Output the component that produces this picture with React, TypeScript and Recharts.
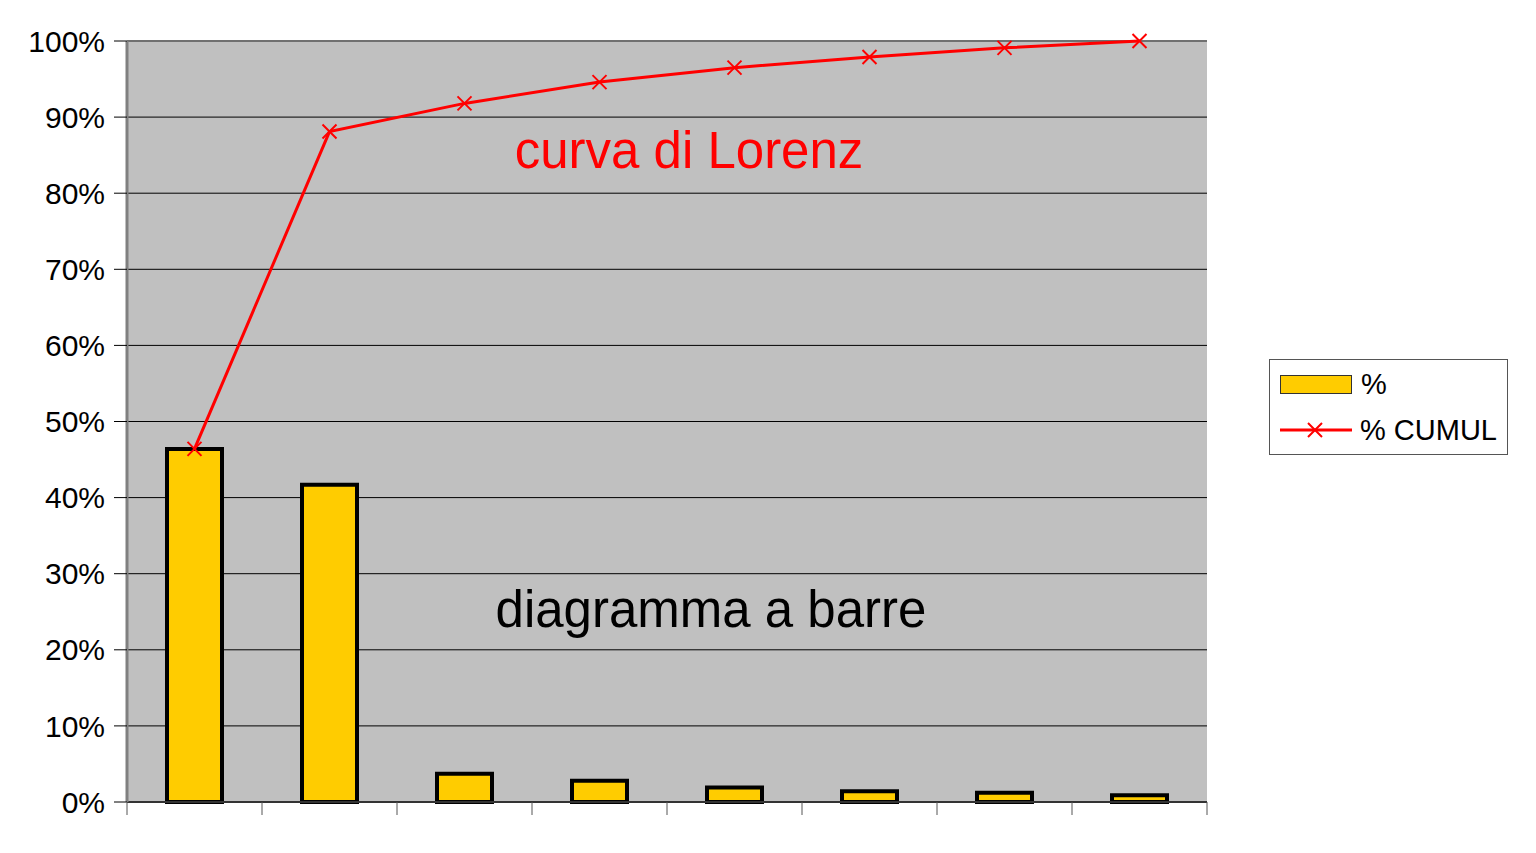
import {
  ComposedChart,
  Bar,
  Line,
  XAxis,
  YAxis,
  CartesianGrid,
  ReferenceLine,
  Customized,
} from 'recharts';

const categories = ['1', '2', '3', '4', '5', '6', '7', '8'];
const percent = [46.4, 41.7, 3.7, 2.8, 1.9, 1.4, 1.2, 0.9];
const cumul = [46.4, 88.1, 91.8, 94.6, 96.5, 97.9, 99.1, 100];
const yTicks = [0, 10, 20, 30, 40, 50, 60, 70, 80, 90, 100];

const FONT = '"Liberation Sans", Arial, sans-serif';
const TICK = 13;

const data = categories.map((c, i) => ({ cat: c, pct: percent[i], cum: cumul[i] }));

// red "x" marker used for the cumulative line
function CrossDot(props: any) {
  const { cx, cy } = props;
  if (cx == null || cy == null) return null;
  const s = 7;
  return (
    <path
      key={`x-${cx}`}
      d={`M${cx - s},${cy - s}L${cx + s},${cy + s}M${cx - s},${cy + s}L${cx + s},${cy - s}`}
      stroke="#ff0000"
      strokeWidth={2}
      fill="none"
    />
  );
}

// tick marks sit on the category boundaries, not the centres
function BoundaryTick(props: any) {
  const { x, y, payload, index, visibleTicksCount } = props;
  const half = payload?.offset ?? 0;
  const y0 = y - TICK;
  const isLast = index === (visibleTicksCount ?? categories.length) - 1;
  return (
    <g>
      <line x1={x - half} y1={y0} x2={x - half} y2={y} stroke="#555" strokeWidth={1} />
      {isLast && <line x1={x + half} y1={y0} x2={x + half} y2={y} stroke="#555" strokeWidth={1} />}
    </g>
  );
}

function LegendBox() {
  return (
    <div
      style={{
        position: 'absolute',
        left: 1269,
        top: 359,
        width: 239,
        height: 96,
        background: '#fff',
        border: '1px solid #555',
        fontFamily: FONT,
        fontSize: 29,
        color: '#000',
        boxSizing: 'border-box',
      }}
    >
      <div style={{ display: 'flex', alignItems: 'center', height: 48, paddingLeft: 10 }}>
        <div style={{ width: 70, height: 17, background: '#ffcc00', border: '1px solid #333', marginRight: 9 }} />
        <span>%</span>
      </div>
      <div style={{ display: 'flex', alignItems: 'center', height: 44, paddingLeft: 10 }}>
        <svg width={72} height={20} style={{ marginRight: 8 }}>
          <line x1={0} y1={10} x2={72} y2={10} stroke="#ff0000" strokeWidth={3} />
          <path d="M28,3L42,17M28,17L42,3" stroke="#ff0000" strokeWidth={2} />
        </svg>
        <span>% CUMUL</span>
      </div>
    </div>
  );
}

function Annotations() {
  return (
    <g fontFamily={FONT}>
      <text x={689} y={168} textAnchor="middle" fontSize={51} fill="#ff0000">
        curva di Lorenz
      </text>
      <text x={711} y={627} textAnchor="middle" fontSize={51} fill="#000">
        diagramma a barre
      </text>
    </g>
  );
}

export default function App() {
  return (
    <div style={{ position: 'absolute', left: 0, top: 0, width: 1536, height: 853, background: '#fff' }}>
      <ComposedChart
        width={1536}
        height={853}
        data={data}
        margin={{ top: 41, right: 329, bottom: 0, left: 0 }}
      >
        <CartesianGrid
          vertical={false}
          stroke="#000"
          strokeWidth={1}
          fill="#c0c0c0"
          fillOpacity={1}
          yAxisId="y"
        />
        <XAxis
          dataKey="cat"
          type="category"
          height={51}
          tickSize={TICK}
          tickMargin={0}
          tickLine={false}
          tick={<BoundaryTick />}
          axisLine={{ stroke: '#333', strokeWidth: 2 }}
          interval={0}
        />
        <YAxis
          yAxisId="y"
          width={127}
          domain={[0, 100]}
          ticks={yTicks}
          tickSize={TICK}
          tickMargin={9}
          tickFormatter={(v: number) => `${v}%`}
          tick={{ fill: '#000', fontSize: 30, fontFamily: FONT }}
          axisLine={{ stroke: '#808080', strokeWidth: 3 }}
          tickLine={{ stroke: '#000', strokeWidth: 1 }}
        />
        <YAxis
          yAxisId="r"
          orientation="right"
          width={0}
          domain={[0, 100]}
          tick={false}
          tickLine={false}
          axisLine={{ stroke: '#808080', strokeWidth: 3 }}
        />
        <ReferenceLine yAxisId="y" y={100} stroke="#707070" strokeWidth={2} />
        <Bar
          yAxisId="y"
          dataKey="pct"
          name="%"
          barSize={55}
          fill="#ffcc00"
          stroke="#000"
          strokeWidth={4}
          isAnimationActive={false}
        />
        <Line
          yAxisId="y"
          dataKey="cum"
          name="% CUMUL"
          type="linear"
          stroke="#ff0000"
          strokeWidth={3}
          dot={<CrossDot />}
          activeDot={false}
          isAnimationActive={false}
        />
        <Customized component={Annotations} />
      </ComposedChart>
      <LegendBox />
    </div>
  );
}
